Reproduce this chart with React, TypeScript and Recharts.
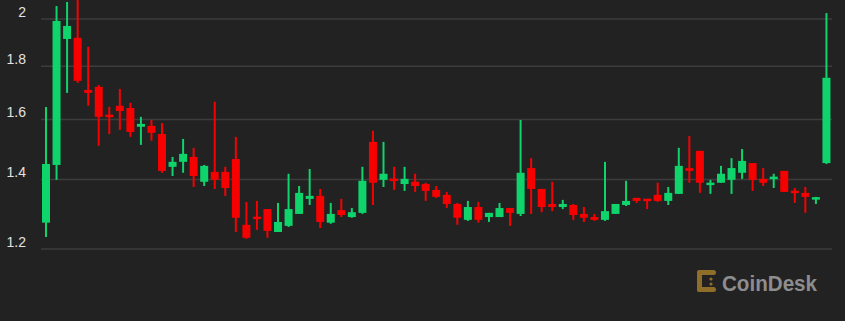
import React from 'react'
import { BarChart, Bar, XAxis, YAxis, CartesianGrid } from 'recharts'

// hourly candles, left to right
const opens = [
  1.272, 1.446, 1.913, 1.918, 1.708, 1.72, 1.616, 1.649, 1.641, 1.574,
  1.577, 1.549, 1.44, 1.456, 1.472, 1.393, 1.424, 1.424, 1.465, 1.266,
  1.288, 1.311, 1.246, 1.263, 1.297, 1.341, 1.35, 1.272, 1.308, 1.288,
  1.3, 1.522, 1.399, 1.402, 1.386, 1.393, 1.386, 1.368, 1.353, 1.326,
  1.28, 1.317, 1.288, 1.288, 1.314, 1.297, 1.436, 1.371, 1.326, 1.317,
  1.323, 1.297, 1.288, 1.28, 1.297, 1.323, 1.344, 1.341, 1.353, 1.335,
  1.356, 1.436, 1.492, 1.383, 1.39, 1.399, 1.421, 1.452, 1.402, 1.402,
  1.427, 1.365, 1.359, 1.341, 1.452,
]
const closes = [
  1.449, 1.991, 1.969, 1.743, 1.697, 1.609, 1.609, 1.63, 1.556, 1.584,
  1.553, 1.427, 1.456, 1.482, 1.411, 1.443, 1.399, 1.374, 1.286, 1.23,
  1.283, 1.249, 1.274, 1.311, 1.359, 1.35, 1.274, 1.297, 1.294, 1.302,
  1.396, 1.39, 1.418, 1.396, 1.402, 1.38, 1.365, 1.347, 1.326, 1.286,
  1.317, 1.28, 1.3, 1.314, 1.3, 1.421, 1.371, 1.317, 1.317, 1.326,
  1.294, 1.286, 1.28, 1.305, 1.326, 1.335, 1.335, 1.335, 1.335, 1.359,
  1.443, 1.427, 1.39, 1.39, 1.418, 1.436, 1.459, 1.399, 1.39, 1.408,
  1.362, 1.359, 1.347, 1.344, 1.755,
]
const highs = [
  1.645, 2.058, 2.077, 2.1, 1.88, 1.727, 1.645, 1.712, 1.66, 1.609,
  1.598, 1.587, 1.472, 1.532, 1.502, 1.446, 1.664, 1.44, 1.539, 1.332,
  1.335, 1.311, 1.329, 1.418, 1.38, 1.433, 1.371, 1.329, 1.341, 1.314,
  1.44, 1.56, 1.522, 1.44, 1.44, 1.418, 1.39, 1.38, 1.362, 1.329,
  1.335, 1.332, 1.3, 1.329, 1.314, 1.598, 1.468, 1.371, 1.393, 1.338,
  1.326, 1.317, 1.297, 1.456, 1.326, 1.396, 1.344, 1.341, 1.39, 1.377,
  1.502, 1.542, 1.492, 1.399, 1.443, 1.468, 1.498, 1.452, 1.436, 1.418,
  1.427, 1.374, 1.377, 1.347, 2.026,
]
const lows = [
  1.232, 1.399, 1.697, 1.735, 1.649, 1.509, 1.549, 1.563, 1.539, 1.512,
  1.526, 1.421, 1.411, 1.421, 1.377, 1.38, 1.371, 1.35, 1.246, 1.227,
  1.252, 1.23, 1.246, 1.26, 1.297, 1.323, 1.257, 1.269, 1.288, 1.286,
  1.297, 1.323, 1.377, 1.368, 1.365, 1.362, 1.335, 1.344, 1.314, 1.266,
  1.277, 1.272, 1.274, 1.288, 1.263, 1.291, 1.297, 1.302, 1.305, 1.311,
  1.28, 1.274, 1.277, 1.277, 1.297, 1.32, 1.329, 1.311, 1.332, 1.323,
  1.356, 1.39, 1.359, 1.356, 1.39, 1.356, 1.402, 1.365, 1.38, 1.374,
  1.362, 1.329, 1.3, 1.326, 1.449,
]
const yTicks = [1, 1.2, 1.4, 1.6, 1.8, 2]

const UP = '#0fd46c'
const DOWN = '#f70000'

const data = opens.map((o, i) => ({
  i,
  open: o,
  close: closes[i],
  high: highs[i],
  low: lows[i],
}))

function Candle(props: any) {
  const { x, y, width, height, payload } = props
  const { open, close, high, low } = payload
  const top = Math.min(y, y + height)
  const span = Math.abs(height)
  const lh = Math.log(high)
  const ll = Math.log(low)
  const toY = (v: number) => (lh === ll ? top : top + (span * (lh - Math.log(v))) / (lh - ll))
  const color = close >= open ? UP : DOWN
  const yo = toY(open)
  const yc = toY(close)
  let bTop = Math.min(yo, yc)
  let bH = Math.abs(yo - yc)
  if (bH < 2.5) {
    bTop -= (2.5 - bH) / 2
    bH = 2.5
  }
  const cx = x + width / 2
  return (
    <g>
      <line x1={cx} x2={cx} y1={top} y2={top + span} stroke={color} strokeWidth={2} />
      <rect x={x} y={bTop} width={width} height={bH} fill={color} />
    </g>
  )
}

function YTick(props: any) {
  const { y, payload } = props
  return (
    <text
      x={26}
      y={y - 7}
      dy="0.355em"
      textAnchor="end"
      fill="#e2e2e2"
      fontSize={14}
      fontFamily="'Liberation Sans', Arial, sans-serif"
    >
      {payload.value}
    </text>
  )
}

function Logo() {
  const gold = '#8f6e2a'
  return (
    <svg width={845} height={321} style={{ position: 'absolute', left: 0, top: 0, pointerEvents: 'none' }}>
      <g fill={gold}>
        <rect x={697} y={270} width={19} height={5} rx={2.5} />
        <rect x={697} y={270} width={5} height={22} rx={2.5} />
        <rect x={697} y={287} width={19} height={5} rx={2.5} />
        <circle cx={711} cy={279} r={1.6} />
        <circle cx={711} cy={284} r={1.6} />
      </g>
      <text
        x={722}
        y={291}
        fill="#8d8d8d"
        fontSize={22}
        fontWeight="bold"
        textLength={95}
        lengthAdjust="spacingAndGlyphs"
        fontFamily="'Liberation Sans', Arial, sans-serif"
      >
        CoinDesk
      </text>
    </svg>
  )
}

export default function App() {
  return (
    <div
      style={{
        position: 'absolute',
        left: 0,
        top: 0,
        width: 845,
        height: 321,
        overflow: 'hidden',
        background: '#222222',
      }}
    >
      <div style={{ position: 'absolute', left: 0, top: -24 }}>
        <BarChart width={845} height={355} data={data} margin={{ top: 0, right: 13, left: 0, bottom: 0 }}>
          <CartesianGrid vertical={false} stroke="#3c3c3c" strokeWidth={1.5} />
          <XAxis dataKey="i" hide />
          <YAxis
            scale="log"
            domain={[1, 2.2]}
            ticks={yTicks}
            allowDataOverflow
            width={41}
            axisLine={false}
            tickLine={false}
            tick={<YTick />}
          />
          <Bar
            dataKey={(d: any) => [d.low, d.high]}
            barSize={8}
            shape={<Candle />}
            isAnimationActive={false}
          />
        </BarChart>
      </div>
      <Logo />
    </div>
  )
}
